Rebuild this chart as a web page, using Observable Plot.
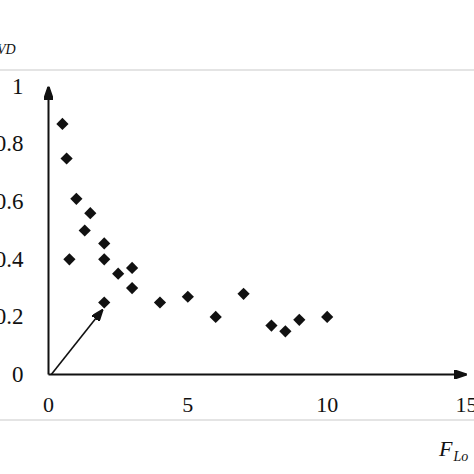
<!DOCTYPE html>
<html>
<head>
<meta charset="utf-8">
<script src="https://cdn.jsdelivr.net/npm/d3@7"></script>
<script src="https://cdn.jsdelivr.net/npm/@observablehq/plot@0.6"></script>
<style>
  html, body { margin: 0; padding: 0; background: #fff; overflow: hidden; }
  #wrap { position: relative; width: 474px; height: 474px; overflow: hidden; }
  #chart { position: absolute; left: 0; top: 0; }
  .hr { position: absolute; left: 0; width: 474px; height: 2px; background: #e4e4e4; }
  .lab { position: absolute; font-family: "Liberation Serif", serif; font-style: italic; color: #111; white-space: nowrap; line-height: 1; }
</style>
</head>
<body>
<div id="wrap">
  <div class="hr" style="top:69px"></div>
  <div class="hr" style="top:419px"></div>
  <div id="chart"></div>
  <div class="lab" style="left:-3px; top:43px; font-size:14px;">VD</div>
  <div class="lab" style="left:439px; top:438px; font-size:22px;">F<span style="font-size:14px; position:relative; top:5px; left:1px;">Lo</span></div>
</div>
<script>
// data points
const xValues = [0.5, 0.65, 1, 1.5, 1.3, 2, 0.75, 2, 2.5, 3, 3, 2, 4, 5, 6, 7, 8, 8.5, 9, 10];
const yValues = [0.87, 0.75, 0.61, 0.56, 0.5, 0.455, 0.4, 0.4, 0.35, 0.37, 0.3, 0.25, 0.25, 0.27, 0.2, 0.28, 0.17, 0.15, 0.19, 0.2];
const xTicks = [0, 5, 10, 15];
const yTicks = [0, 0.2, 0.4, 0.6, 0.8, 1];
// axis arrows and the annotation arrow (data units)
const axisArrows = [
  {x1: 0, y1: 0, x2: 0, y2: 1},
  {x1: 0, y1: 0, x2: 15, y2: 0}
];
const noteArrow = [{x1: 0.1, y1: 0, x2: 1.95, y2: 0.226}];

const points = xValues.map((x, i) => ({x, y: yValues[i]}));

function head(len, wid) {
  return (color, context) => {
    const m = d3.create("svg:marker")
      .attr("viewBox", `${-len} ${-wid / 2} ${len} ${wid}`)
      .attr("markerWidth", len)
      .attr("markerHeight", wid)
      .attr("markerUnits", "userSpaceOnUse")
      .attr("refX", 0)
      .attr("refY", 0)
      .attr("orient", "auto");
    m.append("path")
      .attr("d", `M${-len},${-wid / 2}L0,0L${-len},${wid / 2}Z`)
      .attr("fill", color);
    return m.node();
  };
}

const chart = Plot.plot({
  width: 474,
  height: 474,
  marginLeft: 48,
  marginRight: 8,
  marginTop: 86,
  marginBottom: 100,
  x: {domain: [0, 15]},
  y: {domain: [0, 1]},
  style: {fontFamily: "'Liberation Serif', serif", fontSize: "22px", color: "#111", background: "transparent", overflow: "visible"},
  marks: [
    Plot.axisX(xTicks, {tickSize: 0, tickPadding: 22, label: null, fontSize: 22, tickFormat: d => String(d)}),
    Plot.axisY(yTicks, {tickSize: 0, tickPadding: 25, label: null, fontSize: 23, tickFormat: d => String(d)}),
    Plot.link(axisArrows, {x1: "x1", y1: "y1", x2: "x2", y2: "y2", stroke: "#111", strokeWidth: 2, markerEnd: head(13, 9)}),
    Plot.link(noteArrow, {x1: "x1", y1: "y1", x2: "x2", y2: "y2", stroke: "#111", strokeWidth: 1.6, markerEnd: head(12, 9)}),
    Plot.dot(points, {x: "x", y: "y", symbol: "diamond2", r: 5.5, fill: "#111", stroke: "none"})
  ]
});
document.getElementById("chart").appendChild(chart);
</script>
</body>
</html>
